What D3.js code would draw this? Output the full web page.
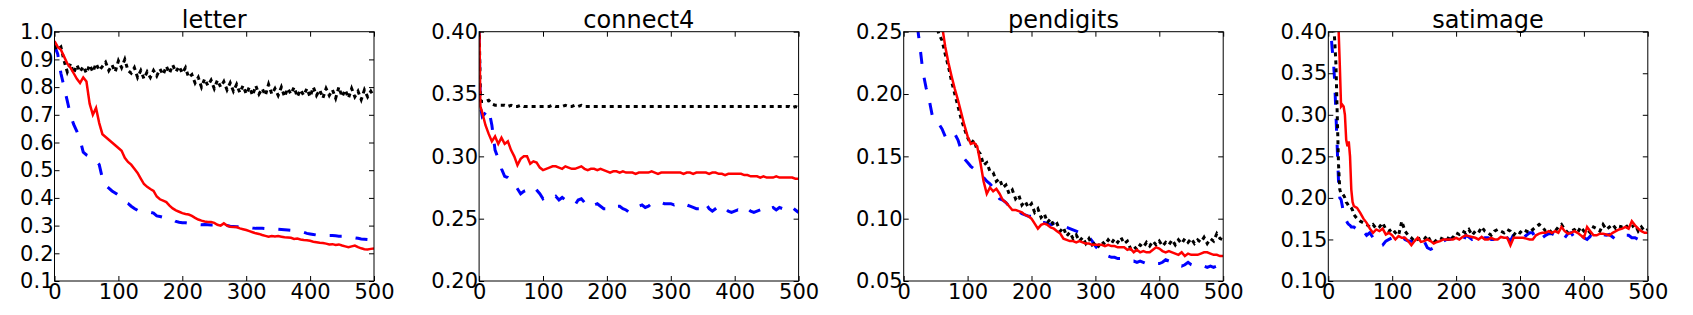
<!DOCTYPE html>
<html>
<head>
<meta charset="utf-8">
<script src="https://cdn.jsdelivr.net/npm/d3@7/dist/d3.min.js"></script>
<style>
  body { margin: 0; background: #fff; }
  svg { display: block; }
  text { font-family: "DejaVu Sans", sans-serif; fill: #000; }
</style>
</head>
<body>
<div id="chart"></div>
<script>
// boosting iterations (x values) for each panel
var stepIters = d3.range(0, 505, 5);
var connectIters = [0, 2].concat(d3.range(5, 505, 5));
var satIters = d3.range(0, 40, 2).concat(d3.range(40, 505, 5));
var xTicks = [0, 100, 200, 300, 400, 500];

// letter
var letterBlack = [
  0.95, 0.935, 0.945, 0.895, 0.855, 0.885, 0.85, 0.88, 0.855, 0.875,
  0.85, 0.88, 0.855, 0.885, 0.86, 0.875, 0.89, 0.86, 0.88, 0.855,
  0.895, 0.87, 0.90, 0.86, 0.85, 0.87, 0.835, 0.86, 0.83, 0.855,
  0.835, 0.86, 0.84, 0.865, 0.845, 0.875, 0.85, 0.88, 0.855, 0.875,
  0.85, 0.87, 0.835, 0.845, 0.815, 0.835, 0.80, 0.83, 0.805, 0.825,
  0.795, 0.825, 0.80, 0.82, 0.79, 0.815, 0.785, 0.81, 0.78, 0.805,
  0.775, 0.80, 0.77, 0.805, 0.775, 0.795, 0.77, 0.81, 0.775, 0.795,
  0.77, 0.80, 0.765, 0.795, 0.775, 0.80, 0.765, 0.79, 0.77, 0.795,
  0.765, 0.80, 0.77, 0.79, 0.76, 0.795, 0.77, 0.79, 0.76, 0.80,
  0.765, 0.79, 0.76, 0.795, 0.765, 0.785, 0.755, 0.79, 0.765, 0.785,
  0.765];
var letterRed = [
  0.966, 0.945, 0.935, 0.91, 0.885, 0.87, 0.85, 0.83, 0.815, 0.835,
  0.82, 0.74, 0.70, 0.725, 0.67, 0.63, 0.62, 0.61, 0.60, 0.59,
  0.58, 0.57, 0.545, 0.53, 0.52, 0.505, 0.49, 0.47, 0.45, 0.44,
  0.432, 0.425, 0.405, 0.395, 0.39, 0.385, 0.372, 0.362, 0.355, 0.35,
  0.345, 0.342, 0.34, 0.335, 0.328, 0.322, 0.318, 0.315, 0.313, 0.313,
  0.31, 0.303, 0.30, 0.308, 0.30, 0.296, 0.295, 0.295, 0.29, 0.287,
  0.284, 0.28, 0.276, 0.272, 0.27, 0.266, 0.263, 0.26, 0.262, 0.261,
  0.262, 0.26, 0.258, 0.257, 0.256, 0.252, 0.253, 0.25, 0.248, 0.247,
  0.245, 0.242, 0.24, 0.238, 0.237, 0.235, 0.232, 0.233, 0.23, 0.232,
  0.228, 0.225, 0.222, 0.225, 0.228, 0.222, 0.218, 0.215, 0.214, 0.216,
  0.217];
var letterBlue = [
  0.95, 0.92, 0.85, 0.80, 0.75, 0.70, 0.665, 0.64, 0.61, 0.565,
  0.555, 0.55, 0.545, 0.535, 0.52, 0.47, 0.445, 0.435, 0.425, 0.418,
  0.41, 0.395, 0.386, 0.38, 0.37, 0.362, 0.355, 0.352, 0.35, 0.348,
  0.348, 0.345, 0.335, 0.333, 0.33, 0.33, 0.328, 0.322, 0.315, 0.312,
  0.31, 0.31, 0.308, 0.306, 0.305, 0.304, 0.303, 0.304, 0.303, 0.302,
  0.302, 0.30, 0.30, 0.301, 0.30, 0.298, 0.297, 0.296, 0.295, 0.295,
  0.294, 0.293, 0.291, 0.29, 0.29, 0.29, 0.289, 0.288, 0.288, 0.287,
  0.287, 0.286, 0.285, 0.284, 0.283, 0.283, 0.282, 0.28, 0.276, 0.272,
  0.27, 0.268, 0.266, 0.266, 0.265, 0.265, 0.264, 0.264, 0.263, 0.262,
  0.262, 0.261, 0.26, 0.258, 0.256, 0.254, 0.252, 0.251, 0.25, 0.25,
  0.25];

// connect4
var c4Black = [0.41, 0.345,
  0.344, 0.344, 0.345, 0.342, 0.341, 0.341, 0.341, 0.341, 0.340, 0.341,
  0.340, 0.340, 0.341, 0.340, 0.340, 0.340, 0.340, 0.340, 0.340, 0.340,
  0.340, 0.340, 0.341, 0.340, 0.340, 0.340, 0.341, 0.340, 0.340, 0.341,
  0.340, 0.341, 0.340, 0.340, 0.340, 0.340, 0.340, 0.340, 0.340, 0.340,
  0.340, 0.340, 0.340, 0.340, 0.340, 0.340, 0.340, 0.340, 0.340, 0.340,
  0.340, 0.340, 0.340, 0.340, 0.340, 0.340, 0.340, 0.340, 0.340, 0.340,
  0.340, 0.340, 0.340, 0.340, 0.340, 0.340, 0.340, 0.340, 0.340, 0.340,
  0.340, 0.340, 0.340, 0.340, 0.340, 0.340, 0.340, 0.340, 0.340, 0.340,
  0.340, 0.340, 0.340, 0.340, 0.340, 0.340, 0.340, 0.340, 0.340, 0.340,
  0.340, 0.340, 0.340, 0.340, 0.340, 0.340, 0.340, 0.339, 0.340, 0.339];
var c4Red = [0.42, 0.34,
  0.335, 0.325, 0.318, 0.312, 0.316, 0.31, 0.315, 0.31, 0.312, 0.305,
  0.30, 0.293, 0.298, 0.30, 0.30, 0.294, 0.296, 0.295, 0.291, 0.289,
  0.29, 0.291, 0.292, 0.292, 0.291, 0.29, 0.292, 0.291, 0.29, 0.29,
  0.291, 0.292, 0.29, 0.289, 0.29, 0.29, 0.289, 0.29, 0.289, 0.288,
  0.287, 0.288, 0.288, 0.287, 0.288, 0.287, 0.287, 0.287, 0.286, 0.287,
  0.287, 0.287, 0.287, 0.288, 0.287, 0.286, 0.287, 0.287, 0.287, 0.287,
  0.287, 0.287, 0.287, 0.286, 0.287, 0.287, 0.286, 0.287, 0.287, 0.287,
  0.287, 0.286, 0.287, 0.287, 0.286, 0.286, 0.285, 0.286, 0.286, 0.286,
  0.286, 0.286, 0.285, 0.285, 0.284, 0.284, 0.284, 0.283, 0.284, 0.283,
  0.283, 0.283, 0.284, 0.283, 0.283, 0.283, 0.283, 0.283, 0.282, 0.282];
var c4Blue = [0.40, 0.34,
  0.332, 0.335, 0.338, 0.325, 0.305, 0.298, 0.29, 0.284, 0.283, 0.28,
  0.278, 0.274, 0.27, 0.272, 0.273, 0.275, 0.276, 0.273, 0.27, 0.266,
  0.268, 0.267, 0.266, 0.268, 0.265, 0.267, 0.265, 0.264, 0.263, 0.261,
  0.265, 0.266, 0.263, 0.262, 0.264, 0.261, 0.262, 0.26, 0.258, 0.258,
  0.259, 0.258, 0.26, 0.26, 0.258, 0.257, 0.255, 0.256, 0.259, 0.26,
  0.261, 0.259, 0.26, 0.262, 0.263, 0.262, 0.263, 0.262, 0.262, 0.262,
  0.261, 0.262, 0.261, 0.26, 0.261, 0.26, 0.259, 0.258, 0.258, 0.263,
  0.262, 0.258, 0.256, 0.258, 0.26, 0.257, 0.258, 0.256, 0.255, 0.256,
  0.257, 0.256, 0.259, 0.258, 0.256, 0.255, 0.256, 0.257, 0.258, 0.256,
  0.258, 0.259, 0.257, 0.259, 0.258, 0.26, 0.258, 0.259, 0.257, 0.255];

// pendigits
var penBlack = [
  0.50, 0.45, 0.41, 0.38, 0.35, 0.33, 0.31, 0.29, 0.28, 0.27,
  0.258, 0.248, 0.243, 0.232, 0.222, 0.21, 0.20, 0.19, 0.18, 0.172,
  0.165, 0.16, 0.163, 0.155, 0.152, 0.143, 0.145, 0.138, 0.137, 0.13,
  0.132, 0.125, 0.127, 0.12, 0.123, 0.116, 0.119, 0.111, 0.114, 0.109,
  0.112, 0.105, 0.108, 0.101, 0.104, 0.097, 0.10, 0.094, 0.096, 0.09,
  0.093, 0.086, 0.089, 0.084, 0.087, 0.082, 0.085, 0.08, 0.084, 0.079,
  0.081, 0.078, 0.082, 0.079, 0.083, 0.08, 0.084, 0.081, 0.085, 0.08,
  0.082, 0.076, 0.078, 0.075, 0.079, 0.077, 0.081, 0.078, 0.082, 0.079,
  0.082, 0.078, 0.081, 0.079, 0.083, 0.079, 0.083, 0.08, 0.084, 0.081,
  0.084, 0.08, 0.083, 0.081, 0.085, 0.08, 0.084, 0.082, 0.088, 0.084,
  0.083];
var penRed = [
  0.50, 0.46, 0.42, 0.39, 0.36, 0.34, 0.32, 0.30, 0.285, 0.275,
  0.27, 0.262, 0.255, 0.238, 0.225, 0.214, 0.204, 0.195, 0.185, 0.175,
  0.166, 0.16, 0.161, 0.158, 0.145, 0.13, 0.12, 0.125, 0.122, 0.124,
  0.12, 0.115, 0.113, 0.11, 0.107, 0.107, 0.106, 0.105, 0.103, 0.102,
  0.10, 0.096, 0.092, 0.095, 0.096, 0.095, 0.093, 0.092, 0.09, 0.088,
  0.084, 0.083, 0.082, 0.082, 0.081, 0.082, 0.081, 0.080, 0.080, 0.079,
  0.079, 0.079, 0.079, 0.078, 0.079, 0.078, 0.078, 0.077, 0.077, 0.077,
  0.075, 0.076, 0.073, 0.075, 0.073, 0.074, 0.073, 0.073, 0.075, 0.077,
  0.076, 0.074, 0.073, 0.074, 0.073, 0.072, 0.071, 0.073, 0.070, 0.072,
  0.071, 0.071, 0.071, 0.072, 0.073, 0.073, 0.072, 0.071, 0.071, 0.070,
  0.070];
var penBlue = [
  0.40, 0.36, 0.32, 0.285, 0.26, 0.24, 0.218, 0.205, 0.195, 0.182,
  0.177, 0.176, 0.172, 0.166, 0.167, 0.165, 0.168, 0.163, 0.155, 0.148,
  0.145, 0.142, 0.14, 0.138, 0.136, 0.133, 0.13, 0.128, 0.125, 0.12,
  0.116, 0.115, 0.113, 0.11, 0.108, 0.107, 0.106, 0.104, 0.103, 0.102,
  0.102, 0.10, 0.098, 0.097, 0.097, 0.096, 0.095, 0.096, 0.095, 0.094,
  0.095, 0.093, 0.092, 0.091, 0.09, 0.089, 0.088, 0.087, 0.085, 0.082,
  0.078, 0.075, 0.074, 0.072, 0.07, 0.069, 0.069, 0.068, 0.068, 0.067,
  0.067, 0.066, 0.066, 0.065, 0.066, 0.065, 0.064, 0.063, 0.064, 0.064,
  0.064, 0.065, 0.067, 0.066, 0.065, 0.063, 0.063, 0.062, 0.063, 0.065,
  0.063, 0.062, 0.062, 0.061, 0.062, 0.061, 0.062, 0.061, 0.062, 0.063,
  0.064];

// satimage (first 20 values: iterations 0..38 by 2)
var satBlack = [
  0.50, 0.47, 0.45, 0.43, 0.41, 0.39, 0.36, 0.30, 0.24, 0.21,
  0.205, 0.205, 0.203, 0.20, 0.195, 0.193, 0.19, 0.19, 0.188, 0.185,
  0.18, 0.175, 0.172, 0.17, 0.168, 0.165, 0.168, 0.163, 0.165, 0.17,
  0.162, 0.16, 0.163, 0.158, 0.155, 0.172, 0.16, 0.155, 0.152, 0.148,
  0.15, 0.152, 0.15, 0.155, 0.148, 0.146, 0.15, 0.152, 0.15, 0.148,
  0.155, 0.152, 0.158, 0.156, 0.16, 0.158, 0.162, 0.155, 0.16, 0.158,
  0.165, 0.16, 0.158, 0.155, 0.16, 0.162, 0.16, 0.158, 0.162, 0.16,
  0.155, 0.16, 0.158, 0.162, 0.16, 0.158, 0.162, 0.165, 0.168, 0.165,
  0.16, 0.162, 0.158, 0.16, 0.165, 0.168, 0.162, 0.158, 0.16, 0.162,
  0.158, 0.165, 0.16, 0.162, 0.158, 0.165, 0.163, 0.16, 0.168, 0.162,
  0.165, 0.168, 0.163, 0.166, 0.165, 0.168, 0.163, 0.165, 0.168, 0.16,
  0.165, 0.16, 0.162];
var satRed = [
  0.60, 0.56, 0.52, 0.49, 0.47, 0.45, 0.43, 0.42, 0.405, 0.36,
  0.31, 0.312, 0.31, 0.30, 0.27, 0.262, 0.268, 0.25, 0.21, 0.195,
  0.19, 0.188, 0.182, 0.175, 0.17, 0.163, 0.158, 0.162, 0.16, 0.163,
  0.156, 0.158, 0.155, 0.15, 0.154, 0.152, 0.152, 0.148, 0.143, 0.148,
  0.152, 0.147, 0.148, 0.15, 0.148, 0.145, 0.147, 0.148, 0.15, 0.15,
  0.15, 0.15, 0.152, 0.15, 0.153, 0.155, 0.154, 0.153, 0.152, 0.15,
  0.153, 0.15, 0.15, 0.152, 0.15, 0.15, 0.153, 0.152, 0.152, 0.143,
  0.152, 0.152, 0.152, 0.152, 0.151, 0.15, 0.15, 0.155, 0.157, 0.158,
  0.158, 0.16, 0.158, 0.16, 0.158, 0.165, 0.16, 0.157, 0.158, 0.16,
  0.158, 0.155, 0.152, 0.165, 0.16, 0.155, 0.155, 0.157, 0.157, 0.156,
  0.155, 0.158, 0.16, 0.162, 0.163, 0.165, 0.163, 0.172, 0.167, 0.163,
  0.16, 0.158, 0.158];
var satBlue = [
  0.42, 0.41, 0.40, 0.38, 0.365, 0.34, 0.30, 0.26, 0.22, 0.20,
  0.198, 0.19, 0.18, 0.177, 0.173, 0.17, 0.168, 0.167, 0.165, 0.165,
  0.165, 0.162, 0.165, 0.16, 0.155, 0.158, 0.152, 0.148, 0.142, 0.143,
  0.148, 0.15, 0.152, 0.155, 0.157, 0.155, 0.15, 0.148, 0.148, 0.146,
  0.147, 0.15, 0.148, 0.14, 0.138, 0.14, 0.145, 0.147, 0.148, 0.15,
  0.15, 0.152, 0.15, 0.148, 0.145, 0.155, 0.153, 0.15, 0.152, 0.155,
  0.15, 0.152, 0.152, 0.15, 0.15, 0.148, 0.15, 0.15, 0.152, 0.148,
  0.156, 0.155, 0.15, 0.152, 0.155, 0.158, 0.158, 0.15, 0.148, 0.152,
  0.155, 0.157, 0.157, 0.155, 0.152, 0.155, 0.152, 0.157, 0.158, 0.152,
  0.15, 0.156, 0.152, 0.15, 0.154, 0.152, 0.151, 0.154, 0.156, 0.155,
  0.156, 0.153, 0.15, 0.152, 0.152, 0.155, 0.155, 0.152, 0.152, 0.15,
  0.151, 0.155, 0.157];

var panels = [
  {title: "letter", iters: stepIters, yDomain: [0.1, 1.0], yTicks: [0.1, 0.2, 0.3, 0.4, 0.5, 0.6, 0.7, 0.8, 0.9, 1.0], fmt: ".1f",
   black: letterBlack, red: letterRed, blue: letterBlue},
  {title: "connect4", iters: connectIters, yDomain: [0.2, 0.4], yTicks: [0.20, 0.25, 0.30, 0.35, 0.40], fmt: ".2f",
   black: c4Black, red: c4Red, blue: c4Blue},
  {title: "pendigits", iters: stepIters, yDomain: [0.05, 0.25], yTicks: [0.05, 0.10, 0.15, 0.20, 0.25], fmt: ".2f",
   black: penBlack, red: penRed, blue: penBlue},
  {title: "satimage", iters: satIters, yDomain: [0.1, 0.4], yTicks: [0.10, 0.15, 0.20, 0.25, 0.30, 0.35, 0.40], fmt: ".2f",
   black: satBlack, red: satRed, blue: satBlue}
];

var width = 1693, height = 315;
var firstLeft = 54.5, panelStep = 424.6, panelWidth = 319.5;
var plotTop = 31.7, plotHeight = 249.3;
var tickFont = 21, titleFont = 24;

var svg = d3.select("#chart").append("svg")
  .attr("width", width)
  .attr("height", height);

panels.forEach(function(p, i) {
  var g = svg.append("g")
    .attr("transform", "translate(" + (firstLeft + i * panelStep) + "," + plotTop + ")");
  var xScale = d3.scaleLinear().domain([0, 500]).range([0, panelWidth]);
  var yScale = d3.scaleLinear().domain(p.yDomain).range([plotHeight, 0]);

  g.append("clipPath").attr("id", "clip" + i)
    .append("rect").attr("width", panelWidth).attr("height", plotHeight);

  var line = d3.line()
    .x(function(d) { return xScale(d[0]); })
    .y(function(d) { return yScale(d[1]); });

  var series = [
    {values: p.blue, color: "#0000ff", dash: "12,14", width: 3},
    {values: p.black, color: "#000000", dash: "4,4", width: 3},
    {values: p.red, color: "#ff0000", dash: null, width: 2.5}
  ];
  var dataGroup = g.append("g").attr("clip-path", "url(#clip" + i + ")");
  series.forEach(function(s) {
    var pts = d3.zip(p.iters, s.values);
    dataGroup.append("path")
      .attr("d", line(pts))
      .attr("fill", "none")
      .attr("stroke", s.color)
      .attr("stroke-width", s.width)
      .attr("stroke-dasharray", s.dash);
  });

  // ticks on all four sides, pointing in
  var bottom = g.append("g")
    .attr("transform", "translate(0," + plotHeight + ")")
    .call(d3.axisBottom(xScale).tickValues(xTicks).tickSizeInner(-5).tickSizeOuter(0).tickPadding(3));
  var left = g.append("g")
    .call(d3.axisLeft(yScale).tickValues(p.yTicks).tickFormat(d3.format(p.fmt)).tickSizeInner(-5).tickSizeOuter(0).tickPadding(1));
  g.append("g")
    .call(d3.axisTop(xScale).tickValues(xTicks).tickFormat("").tickSizeInner(-5).tickSizeOuter(0));
  g.append("g")
    .attr("transform", "translate(" + panelWidth + ",0)")
    .call(d3.axisRight(yScale).tickValues(p.yTicks).tickFormat("").tickSizeInner(-5).tickSizeOuter(0));
  g.selectAll(".domain").remove();
  [bottom, left].forEach(function(a) {
    a.attr("font-size", tickFont).attr("font-family", "DejaVu Sans");
  });

  g.append("rect")
    .attr("width", panelWidth)
    .attr("height", plotHeight)
    .attr("fill", "none")
    .attr("stroke", "#000")
    .attr("stroke-width", 1);

  g.append("text")
    .attr("x", panelWidth / 2)
    .attr("y", -4)
    .attr("text-anchor", "middle")
    .attr("font-size", titleFont)
    .text(p.title);
});
</script>
</body>
</html>
